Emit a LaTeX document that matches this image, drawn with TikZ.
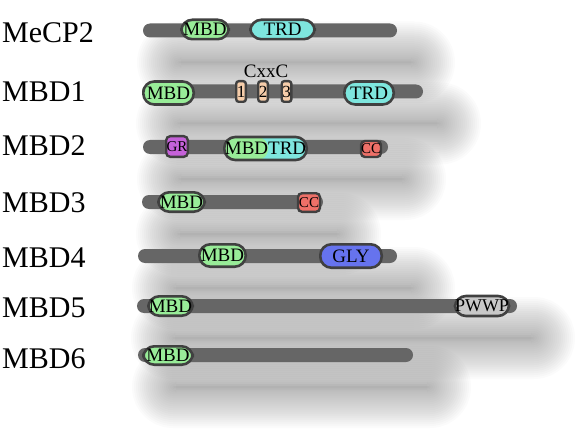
\documentclass[tikz,border=0pt]{standalone}
\usepackage{fontspec}
\setmainfont{Liberation Serif}
\definecolor{barc}{HTML}{666666}
\definecolor{edgec}{HTML}{404040}
\definecolor{mbdc}{HTML}{98EC98}
\definecolor{trdc}{HTML}{7EE6DE}
\definecolor{cxxc}{HTML}{F6CDAA}
\definecolor{grc}{HTML}{C561D9}
\definecolor{ccc}{HTML}{EE7068}
\definecolor{glyc}{HTML}{6673EE}
\definecolor{pwwpc}{HTML}{C8C8C8}
\tikzset{
 protbar/.style={fill=barc, rounded corners=7pt, minimum height=14pt, inner sep=0pt},
 shadowlayer/.style={fill=black, opacity=0.017},
 dom/.style={draw=edgec, line width=2.6pt, rounded corners=11pt, minimum height=20pt, inner sep=0pt,
   font=\fontsize{19}{19}\selectfont},
 smalldom/.style={draw=edgec, line width=2.4pt, rounded corners=4pt, minimum height=17pt, inner sep=0pt,
   font=\fontsize{15}{15}\selectfont},
 cbox/.style={draw=edgec, line width=2.4pt, fill=cxxc, rounded corners=2.5pt, minimum width=9.6pt,
   minimum height=20.6pt, inner sep=0pt, font=\fontsize{17}{17}\selectfont},
 lab/.style={anchor=base west, inner sep=0pt, font=\fontsize{30}{30}\selectfont},
}
% soft shadow of a bar: centre x, centre y, width
\newcommand\protshadow[3]{%
  \foreach \k in {0,...,22}{%
    \pgfmathsetmacro\ee{34-2*\k}%
    \pgfmathsetmacro\rr{7+\ee}%
    \fill[shadowlayer, rounded corners=\rr pt]
      ({#1-#3/2-\ee+28},{#2-7-\ee+32}) rectangle ({#1+#3/2+\ee+24},{#2+7+\ee+32});
  }}
\begin{document}
\begin{tikzpicture}[x=1pt,y=-1pt]
\useasboundingbox (0,0) rectangle (578,433);
% shadows
\protshadow{270}{30.5}{254}
\protshadow{282.5}{91.5}{281}
\protshadow{265.5}{147}{245}
\protshadow{232.5}{202}{181}
\protshadow{267.5}{256}{259}
\protshadow{327}{306}{380}
\protshadow{275.5}{355}{275}
% labels
\node[lab] (l1) at (2,43) {MeCP2};
\node[lab] (l2) at (2,102) {MBD1};
\node[lab] (l3) at (2,155) {MBD2};
\node[lab] (l4) at (2,212) {MBD3};
\node[lab] (l5) at (2,267) {MBD4};
\node[lab] (l6) at (2,317) {MBD5};
\node[lab] (l7) at (2,368) {MBD6};
% bars
\node[protbar, minimum width=254pt] (b1) at (270,30.5) {};
\node[protbar, minimum width=281pt] (b2) at (282.5,91.5) {};
\node[protbar, minimum width=245pt] (b3) at (265.5,147) {};
\node[protbar, minimum width=181pt] (b4) at (232.5,202) {};
\node[protbar, minimum width=259pt] (b5) at (267.5,256) {};
\node[protbar, minimum width=380pt] (b6) at (327,306) {};
\node[protbar, minimum width=275pt] (b7) at (275.5,355) {};
% MeCP2
\node[dom, fill=mbdc, minimum width=47.4pt, minimum height=19.4pt] (m1) at (205,29.5) {MBD};
\node[dom, fill=trdc, minimum width=64.4pt, minimum height=19.4pt] (t1) at (282.5,29.5) {TRD};
% MBD1
\node[dom, fill=mbdc, minimum width=50.4pt, minimum height=23pt] (m2) at (168.5,93) {MBD};
\node[cbox] (c1) at (241,91.5) {1};
\node[cbox] (c2) at (263,91.5) {2};
\node[cbox] (c3) at (286.5,91.5) {3};
\node[inner sep=0pt, font=\fontsize{19}{19}\selectfont] (cx) at (266,71) {CxxC};
\node[dom, fill=trdc, minimum width=49.4pt, minimum height=23pt] (t2) at (369,93) {TRD};
% MBD2
\node[smalldom, fill=grc, minimum width=21.6pt, minimum height=20.6pt] (g3) at (177,146.5) {GR};
\node[dom, fill=trdc, minimum width=82.4pt, minimum height=23pt,
  path picture={\fill[mbdc] (path picture bounding box.north west) rectangle ([xshift=2.6pt]path picture bounding box.south);}]
  (m3) at (265.5,148.5) {MBDTRD};
\node[smalldom, fill=ccc, minimum width=19.6pt, minimum height=16pt] (cc3) at (371,149) {CC};
% MBD3
\node[dom, fill=mbdc, minimum width=46.4pt, minimum height=19.4pt] (m4) at (181.5,202) {MBD};
\node[smalldom, fill=ccc, minimum width=22pt, minimum height=18.6pt] (cc4) at (309,202.5) {CC};
% MBD4
\node[dom, fill=mbdc, minimum width=46.4pt, minimum height=22.4pt] (m5) at (222.5,255.5) {MBD};
\node[dom, fill=glyc, minimum width=61.4pt, minimum height=23.4pt] (gl5) at (351,256) {GLY};
% MBD5
\node[dom, fill=mbdc, minimum width=44.4pt, minimum height=19.4pt] (m6) at (170.5,306) {MBD};
\node[dom, fill=pwwpc, minimum width=53.4pt, minimum height=20pt, font=\fontsize{18}{18}\selectfont] (p6) at (482,306) {PWWP};
% MBD6
\node[dom, fill=mbdc, minimum width=49.4pt, minimum height=18.4pt] (m7) at (168,355.5) {MBD};
\end{tikzpicture}
\end{document}
